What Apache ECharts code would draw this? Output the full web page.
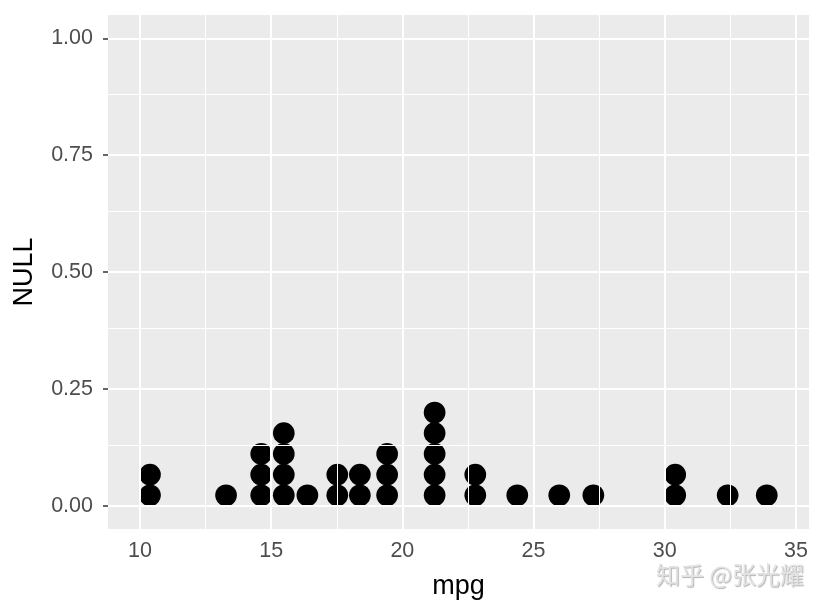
<!DOCTYPE html>
<html>
<head>
<meta charset="utf-8">
<script src="https://cdn.jsdelivr.net/npm/echarts@6/dist/echarts.min.js"></script>
<style>
html,body{margin:0;padding:0;background:#fff;}
#chart{width:824px;height:614px;}
</style>
</head>
<body>
<div id="chart"></div>
<script>
// Dot-plot bins of mpg (bin centre) and number of stacked dots in each bin
const binCenters = [10.38, 13.28, 14.62, 15.48, 16.38, 17.52, 18.38, 19.42, 21.23, 22.78, 24.38, 25.98, 27.28, 30.40, 32.40, 33.89];
const binCounts  = [2, 1, 3, 4, 1, 2, 2, 3, 5, 2, 1, 1, 1, 2, 1, 1];
const stackStep = 0.0443; // height of one stacked dot in y units
const xTicks = [10, 15, 20, 25, 30, 35];
const xMinor = [12.5, 17.5, 22.5, 27.5, 32.5];
const yTicks = [0, 0.25, 0.5, 0.75, 1.0];
const yMinor = [0.125, 0.375, 0.625, 0.875];

const dots = [];
binCenters.forEach((x, i) => {
  for (let k = 0; k < binCounts[i]; k++) dots.push([x, (k + 0.5) * stackStep]);
});

const gridLines = [];
xMinor.forEach(v => gridLines.push({xAxis: v, lineStyle: {width: 1}}));
yMinor.forEach(v => gridLines.push({yAxis: v, lineStyle: {width: 1}}));
xTicks.forEach(v => gridLines.push({xAxis: v, lineStyle: {width: 2}}));
yTicks.forEach(v => gridLines.push({yAxis: v, lineStyle: {width: 2}}));

const chart = echarts.init(document.getElementById('chart'), null, {renderer: 'canvas'});
chart.setOption({
  animation: false,
  backgroundColor: '#ffffff',
  grid: {left: 108, right: 15, top: 15, bottom: 85, show: true, backgroundColor: '#EBEBEB', borderWidth: 0},
  xAxis: {
    type: 'value', min: 8.78, max: 35.5,
    axisLine: {show: false},
    splitLine: {show: false},
    axisTick: {show: true, customValues: xTicks, length: 5, lineStyle: {color: '#333333', width: 1.5}},
    axisLabel: {customValues: xTicks, color: '#4D4D4D', fontSize: 21.5, fontFamily: 'Liberation Sans', margin: 11},
    name: 'mpg', nameLocation: 'middle', nameGap: 44,
    nameTextStyle: {color: '#000000', fontSize: 27, fontFamily: 'Liberation Sans'}
  },
  yAxis: {
    type: 'value', min: -0.05, max: 1.05,
    axisLine: {show: false},
    splitLine: {show: false},
    axisTick: {show: true, customValues: yTicks, length: 5, lineStyle: {color: '#333333', width: 1.5}},
    axisLabel: {customValues: yTicks, color: '#4D4D4D', fontSize: 21.5, fontFamily: 'Liberation Sans', margin: 15,
      formatter: v => v.toFixed(2)},
    name: 'NULL', nameLocation: 'middle', nameGap: 70, nameRotate: 90,
    nameTextStyle: {color: '#000000', fontSize: 27, fontFamily: 'Liberation Sans'}
  },
  series: [
    {
      type: 'scatter', data: [], z: 1, silent: true,
      markLine: {silent: true, symbol: ['none', 'none'], label: {show: false},
        lineStyle: {color: '#ffffff', type: 'solid'}, emphasis: {disabled: true}, data: gridLines}
    },
    {
      type: 'scatter', data: dots, z: 3, symbol: 'circle', symbolSize: 21.7,
      itemStyle: {color: '#000000', opacity: 1}
    }
  ],
  graphic: [{
    type: 'text', right: 20, top: 563, z: 100,
    style: {text: '知乎 @张光耀', fill: '#e2e2e2', fontSize: 24, fontFamily: 'Noto Sans CJK SC',
      textShadowColor: 'rgba(0,0,0,0.3)', textShadowBlur: 1, textShadowOffsetX: 1, textShadowOffsetY: 1}
  }]
});
</script>
</body>
</html>
